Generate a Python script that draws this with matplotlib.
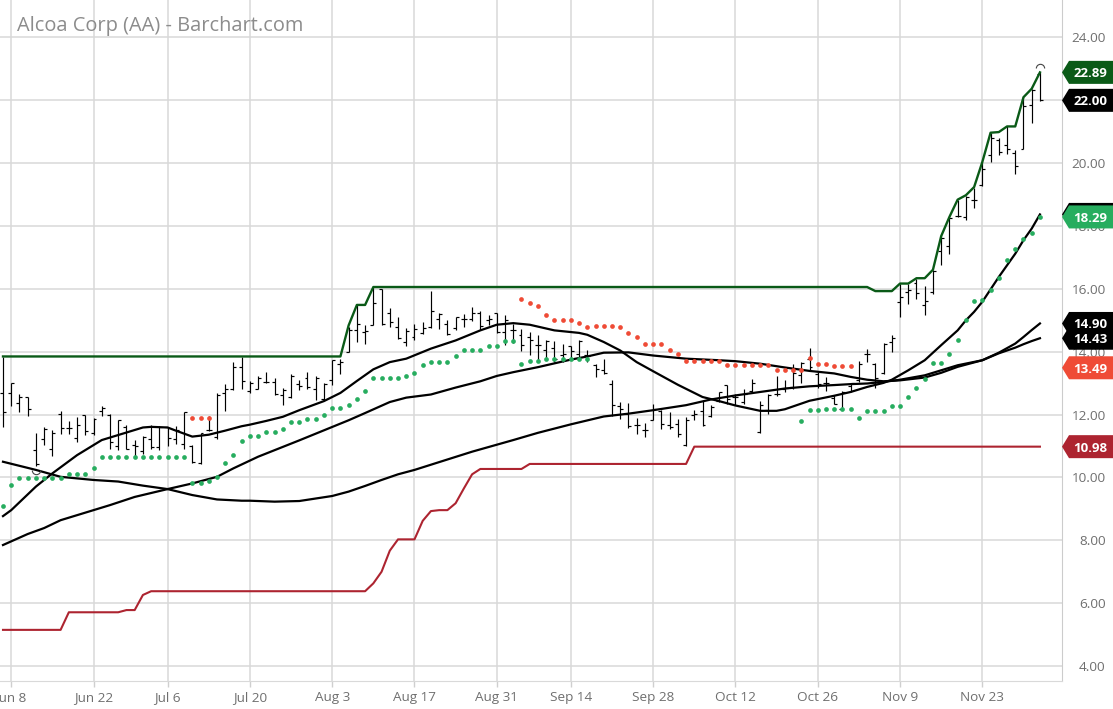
# plot.py
import matplotlib

matplotlib.use("Agg")

import matplotlib.pyplot as plt
from matplotlib.patches import Polygon
from matplotlib.path import Path

opens = [12.70, 12.70, 12.38, 12.55, 10.87, 11.21, 10.89, 12.02, 11.56, 11.24,
         11.98, 11.40, 12.12, 11.98, 11.00, 11.59, 11.03, 10.85, 11.21, 10.98,
         11.59, 11.22, 11.08, 11.00, 10.45, 11.51, 11.30, 12.70, 12.80, 13.50,
         12.75, 12.83, 13.04, 13.04, 12.61, 12.56, 12.96, 13.18, 12.83, 12.51,
         13.09, 13.62, 14.00, 14.68, 14.63, 14.84, 16.01, 15.24, 14.79, 14.31,
         14.47, 14.61, 14.79, 15.05, 14.89, 14.74, 15.03, 15.05, 15.24, 15.00,
         15.23, 14.63, 14.70, 14.52, 14.47, 14.22, 14.04, 14.13, 13.89, 14.18,
         13.92, 13.89, 13.57, 13.43, 12.96, 12.26, 12.03, 11.66, 11.50, 11.84,
         12.11, 11.68, 11.71, 11.02, 11.98, 12.11, 11.95, 12.43, 12.93, 12.56,
         12.40, 12.75, 11.44, 12.14, 12.64, 12.83, 12.88, 13.25, 13.78, 13.28,
         12.99, 12.54, 12.19, 12.90, 13.09, 13.92, 13.62, 13.31, 14.31, 15.59,
         15.90, 16.20, 15.48, 15.90, 17.21, 17.37, 18.31, 18.29, 18.84, 19.30,
         20.25, 20.73, 20.59, 20.33, 20.46, 21.84, 22.85]
highs = [13.84, 13.01, 12.67, 12.57, 11.42, 11.61, 11.51, 12.12, 11.80, 11.91,
         11.98, 11.88, 12.28, 12.02, 11.83, 11.67, 11.19, 11.33, 11.67, 11.63,
         11.61, 11.63, 12.09, 11.03, 11.40, 11.95, 12.70, 12.96, 13.68, 13.84,
         13.08, 13.24, 13.36, 13.15, 12.85, 13.28, 13.11, 13.34, 13.22, 12.99,
         13.75, 13.78, 14.79, 15.48, 14.84, 16.06, 16.01, 15.40, 15.11, 14.77,
         14.89, 14.95, 15.93, 15.23, 15.02, 15.11, 15.21, 15.42, 15.30, 15.16,
         15.23, 15.16, 14.89, 14.73, 14.63, 14.52, 14.36, 14.33, 14.26, 14.18,
         14.36, 14.07, 13.60, 13.78, 13.09, 12.40, 12.37, 11.90, 11.74, 12.33,
         12.14, 12.08, 11.87, 11.92, 12.14, 12.43, 12.29, 12.72, 12.95, 12.67,
         12.83, 13.13, 12.43, 12.65, 13.22, 13.09, 13.60, 13.68, 14.13, 13.36,
         13.20, 12.62, 12.75, 13.02, 13.70, 14.10, 13.65, 14.28, 14.53, 16.17,
         16.17, 16.33, 16.08, 16.59, 17.68, 18.29, 18.82, 18.95, 19.22, 20.04,
         20.97, 20.80, 21.17, 20.43, 22.11, 22.37, 22.89]
lows = [11.59, 12.28, 12.07, 11.95, 10.36, 11.03, 10.69, 11.38, 11.38, 11.14,
        11.35, 11.35, 11.95, 10.89, 10.87, 10.89, 10.66, 10.74, 10.89, 10.87,
        11.00, 11.06, 10.89, 10.45, 10.43, 11.49, 11.23, 12.12, 12.78, 12.80,
        12.70, 12.80, 12.99, 12.61, 12.30, 12.53, 12.77, 12.80, 12.46, 12.48,
        12.93, 13.28, 14.00, 14.31, 14.24, 14.84, 14.84, 14.79, 14.42, 14.17,
        14.36, 14.58, 14.77, 14.71, 14.52, 14.70, 14.79, 14.98, 14.70, 14.84,
        14.60, 14.23, 14.29, 14.01, 13.89, 13.67, 13.78, 13.67, 13.67, 13.73,
        13.73, 13.67, 13.20, 13.30, 11.95, 11.87, 11.57, 11.39, 11.29, 11.82,
        11.55, 11.53, 11.29, 10.99, 11.84, 11.64, 11.92, 12.40, 12.35, 12.29,
        12.35, 12.72, 11.40, 12.03, 12.60, 12.72, 12.81, 13.01, 13.41, 12.86,
        12.75, 12.33, 12.14, 12.72, 13.04, 13.68, 12.86, 13.28, 13.99, 15.11,
        15.51, 15.69, 15.16, 15.85, 16.75, 17.10, 18.29, 18.18, 18.59, 19.26,
        20.04, 20.25, 20.28, 19.65, 20.46, 21.29, 21.98]
closes = [12.07, 12.99, 12.57, 12.17, 10.42, 11.53, 11.40, 11.56, 11.56, 11.67,
          11.48, 11.85, 12.20, 11.14, 11.83, 10.92, 11.00, 11.30, 10.96, 11.59,
          11.24, 11.51, 12.09, 10.50, 11.40, 11.51, 12.62, 12.83, 13.50, 13.08,
          13.01, 13.18, 13.04, 12.67, 12.77, 13.22, 12.90, 12.88, 13.18, 12.97,
          13.75, 13.67, 14.70, 14.89, 14.66, 15.56, 14.89, 14.95, 14.44, 14.65,
          14.73, 14.77, 15.30, 15.21, 14.58, 15.09, 15.03, 15.23, 14.81, 15.05,
          14.63, 15.02, 14.68, 14.22, 14.38, 14.22, 14.33, 13.78, 13.92, 14.02,
          14.34, 13.85, 13.46, 13.32, 12.30, 12.19, 11.63, 11.68, 11.50, 12.19,
          11.69, 11.61, 11.39, 11.82, 12.03, 11.66, 12.24, 12.72, 12.51, 12.56,
          12.67, 13.01, 12.29, 12.62, 12.64, 12.86, 13.33, 13.65, 13.52, 12.97,
          12.99, 12.35, 12.72, 12.99, 13.62, 13.94, 13.15, 14.26, 14.45, 15.75,
          15.98, 15.87, 15.62, 16.56, 17.63, 18.25, 18.31, 18.93, 18.82, 19.81,
          20.80, 20.36, 20.46, 19.90, 21.82, 22.34, 22.00]

# parabolic dots, each run starts at the bar in the *_start name
sar_green_a_start = 0
sar_green_a = [9.09, 9.76, 9.97, 9.97, 9.97, 9.97, 9.97, 9.99, 10.12, 10.12,
               10.12, 10.30, 10.65, 10.65, 10.65, 10.65, 10.65, 10.65, 10.65, 10.65,
               10.65, 10.65, 10.65, 9.81, 9.83, 9.89, 10.02, 10.45, 10.73, 11.16,
               11.32, 11.32, 11.46, 11.46, 11.55, 11.78, 11.78, 11.85, 11.85, 11.99,
               12.22, 12.22, 12.30, 12.49, 12.74, 13.18, 13.18, 13.18, 13.18, 13.22,
               13.32, 13.57, 13.67, 13.68, 13.68, 13.85, 14.05, 14.05, 14.05, 14.18,
               14.18, 14.34, 14.34, 13.62, 13.69, 13.69, 13.76, 13.76, 13.76, 13.77,
               13.77, 13.77]
sar_green_b_start = 97
sar_green_b = [11.80, 12.14, 12.14, 12.19, 12.19, 12.19, 12.19, 11.90, 12.10, 12.10,
               12.10, 12.27, 12.27, 12.55, 12.85, 13.13, 13.63, 13.63, 13.93, 14.36,
               15.00, 15.62, 15.64, 15.98, 16.35, 16.91, 17.28, 17.58, 17.78, 18.29]
sar_red_a_start = 23
sar_red_a = [11.90, 11.90, 11.90]
sar_red_b_start = 63
sar_red_b = [15.67, 15.55, 15.47, 15.18, 15.02, 15.02, 15.02, 14.91, 14.80, 14.83,
             14.83, 14.83, 14.80, 14.61, 14.46, 14.25, 14.25, 14.25, 14.07, 13.93,
             13.72, 13.72, 13.72, 13.72, 13.72, 13.58, 13.58, 13.58, 13.58, 13.58,
             13.58, 13.41, 13.41, 13.41, 13.41, 13.79, 13.62, 13.62, 13.55, 13.55,
             13.55]

# lines are read at the bars listed in the *_idx lists
upper_idx = [0, 41, 42, 43, 44, 45, 105, 106, 108, 109, 110, 111, 112, 113, 114,
             115, 116, 117, 118, 119, 120, 121, 122, 123, 124, 125, 126]
upper = [13.85, 13.85, 14.84, 15.49, 15.49, 16.06, 16.06, 15.93, 15.93, 16.17,
         16.17, 16.34, 16.34, 16.61, 17.68, 18.29, 18.84, 18.98, 19.24, 20.04,
         20.97, 20.99, 21.17, 21.17, 22.10, 22.37, 22.89]
lower_idx = [0, 7, 8, 14, 15, 16, 17, 18, 44, 45, 46, 47, 48, 50, 51, 52, 53, 54,
             55, 56, 57, 58, 63, 64, 83, 84, 126]
lower = [5.15, 5.15, 5.71, 5.71, 5.78, 5.78, 6.26, 6.38, 6.38, 6.63, 7.00, 7.67,
         8.03, 8.03, 8.62, 8.93, 8.96, 8.96, 9.18, 9.65, 10.10, 10.27, 10.27, 10.43,
         10.43, 10.98, 10.98]
ma_fast_idx = [0, 1, 4, 6, 9, 12, 14, 17, 18, 20, 21, 23, 25, 27, 29, 30, 32, 34, 36,
               39, 41, 43, 45, 47, 49, 52, 55, 58, 60, 62, 64, 67, 70, 71, 73, 75, 77,
               79, 82, 85, 87, 89, 92, 94, 95, 98, 101, 103, 105, 107, 108, 110, 112,
               114, 116, 117, 118, 119, 121, 123, 124, 125, 126]
ma_fast = [8.77, 8.96, 9.71, 10.13, 10.71, 11.19, 11.35, 11.59, 11.61, 11.59, 11.49,
           11.30, 11.36, 11.49, 11.63, 11.68, 11.80, 11.93, 12.14, 12.43, 12.69, 13.07,
           13.44, 13.67, 13.78, 14.10, 14.36, 14.68, 14.86, 14.91, 14.86, 14.68, 14.60,
           14.54, 14.31, 14.04, 13.67, 13.38, 12.95, 12.56, 12.43, 12.29, 12.12, 12.12,
           12.17, 12.44, 12.60, 12.72, 12.88, 13.01, 13.11, 13.41, 13.73, 14.21, 14.68,
           15.00, 15.27, 15.59, 16.38, 17.12, 17.55, 17.92, 18.37]
ma_mid_idx = [0, 3, 5, 7, 9, 11, 13, 16, 20, 23, 26, 28, 31, 36, 39, 42, 44, 47, 49,
              52, 55, 58, 60, 62, 65, 69, 71, 73, 76, 79, 83, 87, 89, 92, 95, 98, 101,
              103, 105, 107, 109, 112, 114, 116, 119, 121, 123, 124, 125, 126]
ma_mid = [7.85, 8.20, 8.39, 8.64, 8.80, 8.96, 9.12, 9.38, 9.63, 9.81, 10.02, 10.29,
          10.66, 11.18, 11.50, 11.82, 12.05, 12.40, 12.54, 12.64, 12.86, 13.06, 13.23,
          13.35, 13.51, 13.75, 13.85, 13.97, 13.98, 13.88, 13.78, 13.73, 13.70, 13.62,
          13.50, 13.39, 13.31, 13.20, 13.11, 13.06, 13.09, 13.18, 13.33, 13.52, 13.73,
          13.97, 14.26, 14.47, 14.69, 14.90]
ma_slow_idx = [0, 4, 7, 11, 14, 17, 20, 23, 26, 29, 30, 33, 36, 38, 40, 42, 44, 46, 48,
               50, 57, 62, 65, 69, 73, 76, 79, 83, 86, 89, 92, 95, 98, 101, 103, 105,
               107, 109, 112, 114, 116, 119, 121, 123, 124, 125, 126]
ma_slow = [10.50, 10.24, 10.02, 9.92, 9.87, 9.74, 9.63, 9.44, 9.30, 9.26, 9.26, 9.23,
           9.25, 9.33, 9.41, 9.55, 9.73, 9.92, 10.10, 10.24, 10.82, 11.19, 11.42, 11.69,
           11.94, 12.03, 12.14, 12.30, 12.48, 12.61, 12.72, 12.83, 12.90, 12.94, 12.97,
           12.99, 13.04, 13.11, 13.25, 13.41, 13.57, 13.73, 13.95, 14.13, 14.24, 14.34,
           14.43]

date_ticks = [1, 11, 20, 30, 40, 50, 60, 69, 79, 89, 99, 109, 119]
date_labels = ["Jun 8", "Jun 22", "Jul 6", "Jul 20", "Aug 3", "Aug 17", "Aug 31",
               "Sep 14", "Sep 28", "Oct 12", "Oct 26", "Nov 9", "Nov 23"]
price_ticks = [4, 6, 8, 10, 12, 14, 16, 18, 20, 22, 24]

# last value tags, back to front
tag_values = [18.37, 10.98, 13.49, 14.90, 14.43, 18.29, 22.00, 22.89]
tag_colors = ["#000000", "#ad2430", "#ef4b36", "#000000", "#000000", "#27ad5f", "#000000", "#0a5a17"]
tag_shown = [False, True, True, True, True, True, True, True]

plt.rcParams["font.family"] = ["Open Sans", "DejaVu Sans"]

fig = plt.figure(figsize=(11.13, 7.09), dpi=100)
ax = fig.add_axes([0, 1 - 681 / 709, 1062 / 1113, 681 / 709])
ax.set_xlim(-0.3645, 128.68)
ax.set_ylim(3.523, 25.193)

ax.set_xticks(date_ticks)
ax.set_xticklabels(date_labels)
ax.set_yticks(price_ticks)
ax.set_yticklabels([f"{p:.2f}" for p in price_ticks])
ax.yaxis.tick_right()
ax.tick_params(axis="y", length=0, pad=31.5, labelsize=9.7, labelcolor="#6f6f6f")
ax.tick_params(axis="x", length=4, width=1, color="#cfcfcf", pad=3, labelsize=9.7, labelcolor="#6f6f6f")
for label in ax.get_yticklabels():
    label.set_ha("right")
ax.grid(True, color="#d9d9d9", linewidth=1.1)
ax.set_axisbelow(True)
ax.spines["left"].set_visible(False)
ax.spines["top"].set_visible(False)
ax.spines["right"].set_color("#cccccc")
ax.spines["bottom"].set_color("#d9d9d9")

bars = range(len(closes))
bar_lw = 0.85
ax.vlines(bars, lows, highs, color="black", linewidth=bar_lw, zorder=3)
ax.hlines(opens, [b - 0.36 for b in bars], bars, color="black", linewidth=bar_lw, zorder=3)
ax.hlines(closes, bars, [b + 0.36 for b in bars], color="black", linewidth=bar_lw, zorder=3)

ax.plot(ma_slow_idx, ma_slow, color="black", linewidth=1.6, zorder=4)
ax.plot(ma_mid_idx, ma_mid, color="black", linewidth=1.6, zorder=4)
ax.plot(ma_fast_idx, ma_fast, color="black", linewidth=1.6, zorder=4)
ax.plot(upper_idx, upper, color="#0a5a17", linewidth=1.7, zorder=4)
ax.plot(lower_idx, lower, color="#ad2430", linewidth=1.5, zorder=4)

for start, values, color in [
    (sar_green_a_start, sar_green_a, "#27ad5f"),
    (sar_green_b_start, sar_green_b, "#27ad5f"),
    (sar_red_a_start, sar_red_a, "#ef4b36"),
    (sar_red_b_start, sar_red_b, "#ef4b36"),
]:
    idx = range(start, start + len(values))
    ax.plot(idx, values, linestyle="none", marker="o", markersize=3.4,
            markeredgewidth=0, color=color, zorder=5)

# little swing arcs at the low of bar 4 and the high of the last bar
arc_top = Path.arc(0, 180)
arc_bottom = Path.arc(180, 360)
ax.plot([4], [lows[4] - 0.12], marker=arc_bottom, markersize=6, markerfacecolor="none",
        markeredgecolor="#444444", markeredgewidth=0.8, zorder=5)
ax.plot([126], [highs[126] + 0.14], marker=arc_top, markersize=6, markerfacecolor="none",
        markeredgecolor="#444444", markeredgewidth=0.8, zorder=5)

trans = ax.get_yaxis_transform()
half = 0.366
for value, color, shown in zip(tag_values, tag_colors, tag_shown):
    points = [(1.0, value), (1.0066, value + half), (1.05, value + half),
              (1.05, value - half), (1.0066, value - half)]
    ax.add_patch(Polygon(points, closed=True, facecolor=color, edgecolor="none",
                         transform=trans, clip_on=False, zorder=6))
    if shown:
        ax.text(1.0425, value, f"{value:.2f}", transform=trans, ha="right", va="center_baseline",
                color="white", fontsize=9.5, fontweight="bold", clip_on=False, zorder=7)

fig.text(17 / 1113, 1 - 26.5 / 709, "Alcoa Corp (AA) - Barchart.com", color="#8c8c8c",
         fontsize=14.4, va="center", ha="left")

fig.savefig("out.png", dpi=100)
plt.close(fig)
